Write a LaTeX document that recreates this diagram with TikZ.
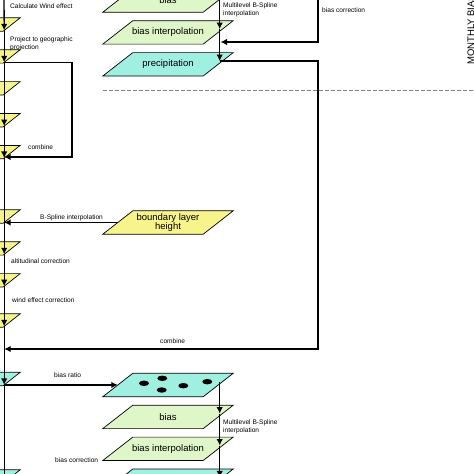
\documentclass[tikz,border=0pt]{standalone}
\usepackage{fontspec}
\setmainfont{Liberation Sans}
\usetikzlibrary{arrows.meta, positioning, calc}
\pgfdeclarelayer{background}
\pgfsetlayers{background,main}
\definecolor{lyellow}{RGB}{248,244,140}
\definecolor{lgreen}{RGB}{222,246,200}
\definecolor{lcyan}{RGB}{160,240,225}
\tikzstyle{layer} = [rectangle, minimum width=130pt, minimum height=23pt, inner sep=0pt, text centered, align=center, font=\fontsize{9.5}{10.5}\selectfont]
\tikzstyle{stepbox} = [rectangle, minimum width=70pt, minimum height=13pt, inner sep=0pt]
\tikzstyle{arrow} = [line width=1.3pt,-{Latex[length=6.5pt,width=6.5pt]}]
\tikzstyle{line} = [line width=1.3pt]
\tikzstyle{note} = [font=\fontsize{6.6}{8}\selectfont, align=left, inner sep=0pt, anchor=west]

\begin{document}
\begin{tikzpicture}[x=1pt,y=-1pt,node distance=8.5pt]
\useasboundingbox (0,0) rectangle (474,474);
\clip (0,0) rectangle (474,474);

% right column, upper part
\node (biasT) [layer] at (168,0.5) {bias};
\node (interpT) [layer, below= of biasT] {bias interpolation};
\node (precT) [layer, below= of interpT] {precipitation};
\node (blh) [layer] at (168,222.5) {boundary layer\\[-1pt]height};
% right column, lower part
\node (dots) [layer] at (168,385) {};
\node (biasB) [layer, below= of dots] {bias};
\node (interpB) [layer, below= of biasB] {bias interpolation};
\node (precB) [layer, below= of interpB] {precipitation};

% left column
\node (L1) [stepbox] at (-15,24.5) {};
\node (L2) [stepbox, below=18.5pt of L1] {};
\node (L3) [stepbox, below=18.5pt of L2] {};
\node (L4) [stepbox, below=18.5pt of L3] {};
\node (L5) [stepbox, below=18.5pt of L4] {};
\node (M1) [stepbox] at (-15,216.5) {};
\node (M2) [stepbox, below=18.5pt of M1] {};
\node (M3) [stepbox, below=18.5pt of M2] {};
\node (M4) [stepbox] at (-15,320.5) {};
\node (B1) [stepbox] at (-15,379) {};
\node (B2) [stepbox] at (-15,476.5) {};

% the slanted sheets behind the nodes
\begin{pgfonlayer}{background}
\foreach \n/\c in {biasT/lgreen, interpT/lgreen, precT/lcyan, blh/lyellow,
                   dots/lcyan, biasB/lgreen, interpB/lgreen, precB/lcyan}
  \filldraw [fill=\c, line width=0.7pt] ([xshift=30pt]\n.north west) -- (\n.north east)
     -- ([xshift=-30pt]\n.south east) -- (\n.south west) -- cycle;
\foreach \n/\c in {L1/lyellow, L2/lyellow, L3/lyellow, L4/lyellow, L5/lyellow,
                   M1/lyellow, M2/lyellow, M3/lyellow, M4/lyellow, B1/lcyan, B2/lcyan}
  \filldraw [fill=\c, line width=0.7pt] ([xshift=17pt]\n.north west) -- (\n.north east)
     -- ([xshift=-17pt]\n.south east) -- (\n.south west) -- cycle;
\end{pgfonlayer}

\fill (dots.center) +(-24,-1.7) ellipse (5pt and 2.7pt)
                    +(-5.7,-6.7) ellipse (5pt and 2.7pt)
                    +(-6.3,5) ellipse (5pt and 2.7pt)
                    +(15.3,0.7) ellipse (5pt and 2.7pt)
                    +(39.3,-3.3) ellipse (5pt and 2.7pt);

% crossing points of the flow lines
\foreach \n in {L1,L2,L3,L4,L5,M1,M2,M3,M4,B1,B2}
  \coordinate (\n c) at ($(\n.north east)!0.94!(\n.south east)+(-16,0)$);
\foreach \n in {biasT,interpT,precT,dots,biasB,interpB,precB}
  \coordinate (\n c) at ($(\n.north east)!0.36!(\n.south east)+(-13.5,0)$);

\coordinate (topL) at (4,-10);
\coordinate (loopA) at (72,157);
\coordinate (loopB) at (318,349);
\coordinate (bcA) at (318,-10);
\coordinate (bcB) at (220.5,42);

% left flow
\draw [arrow] (topL) -- (L1c);
\draw [arrow] (L1c) -- (L2c);
\draw [line] (L2c) -- (L3c);
\draw [arrow] (L3c) -- (L4c);
\draw [arrow] (L4c) -- (L5c);
\draw [line] (L5c) -- (M1c);
\draw [arrow] (M1c) -- (M2c);
\draw [arrow] (M2c) -- (M3c);
\draw [arrow] (M3c) -- (M4c);
\draw [arrow] (M4c) -- (B1c);
\draw [line] (B1c) -- (B2c);
\draw [arrow] (L2c) -- (L2c -| loopA) -- (loopA) -- (loopA -| L5c);
\draw [arrow] ([xshift=15pt]blh.west) -- (blh.west -| M1c);
\draw [arrow] (B1c) -- ($(B1c -| dots.west)+(15,0)$);

% right flow
\draw [arrow] (biasTc) -- (interpTc);
\draw [arrow] (interpTc) -- (precTc);
\draw [arrow] (bcA) |- (bcB);
\draw [arrow] (precTc) -- (precTc -| loopB) -- (loopB) -- (loopB -| B1c);
\draw [arrow] (dotsc) -- (biasBc);
\draw [arrow] (biasBc) -- (interpBc);
\draw [arrow] (interpBc) -- (precBc);

\draw [gray, dashed, dash pattern=on 4pt off 2pt] (103,90) -- (474,90);

% labels
\node (t1) [note] at (10,6) {Calculate Wind effect};
\node (t2) [note] at (10,43.5) {Project to geographic\\projection};
\node (t3) [note] at (28,147) {combine};
\node (t4) [note] at (40,218) {B-Spline interpolation};
\node (t5) [note] at (11,261) {altitudinal correction};
\node (t6) [note] at (12,300) {wind effect correction};
\node (t7) [note] at (160,341) {combine};
\node (t8) [note] at (54,375) {bias ratio};
\node (t9) [note] at (55,460) {bias correction};
\node (t10) [note] at (322,10) {bias correction};
\node (t11) [note] at (223,9.5) {Multilevel B-Spline\\interpolation};
\node (t12) [note] at (223,426.5) {Multilevel B-Spline\\interpolation};
\node (title) [rotate=90, anchor=base west, inner sep=0pt, font=\fontsize{9.5}{11}\selectfont] at (474,65) {MONTHLY BIAS};
\end{tikzpicture}
\end{document}
